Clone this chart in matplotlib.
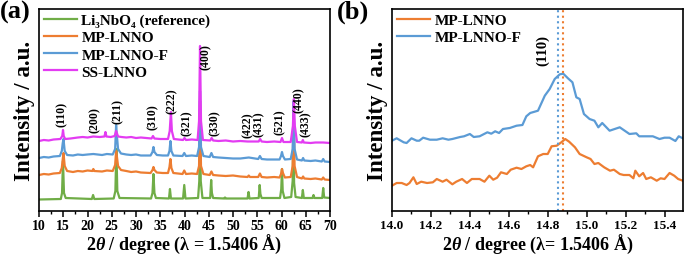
import matplotlib
matplotlib.use("Agg")
import matplotlib.pyplot as plt
from matplotlib.ticker import MultipleLocator, FormatStrFormatter

plt.rcParams['font.family'] = ['Liberation Serif', 'DejaVu Serif']
plt.rcParams['font.weight'] = 'bold'
plt.rcParams['mathtext.fontset'] = 'custom'
plt.rcParams['mathtext.rm'] = 'Liberation Serif:bold'
plt.rcParams['mathtext.it'] = 'Liberation Serif:italic:bold'
plt.rcParams['mathtext.bf'] = 'Liberation Serif:bold'
plt.rcParams['mathtext.default'] = 'regular'

# ---------------- Panel (a) data (intensity, arbitrary units) ----------------
green_x = [10, 14.5, 14.75, 14.95, 15.15, 15.5, 20.9, 21.15, 21.4, 25.4, 25.75, 25.95, 26.15, 26.6,
           33.1, 33.4, 33.6, 33.8, 34.1, 36.8, 37.0, 37.2, 39.7, 39.95, 40.2, 42.8, 43.05, 43.2, 43.35,
           43.7, 45.3, 45.5, 45.65, 45.9, 48.2, 48.35, 48.5, 53.0, 53.2, 53.4, 55.3, 55.5, 55.65, 55.9,
           59.7, 59.95, 60.1, 60.25, 60.6, 62.0, 62.3, 62.45, 62.6, 62.9, 64.2, 64.4, 64.6, 66.4, 66.6,
           66.8, 68.4, 68.6, 68.8, 70]
green_y = [11.5, 12, 18, 50, 18, 13, 12, 16, 12, 12.5, 20, 62, 20, 13,
           12.5, 18, 37, 18, 13, 12.5, 22, 12.5, 12.5, 26, 12.5, 13, 30, 110, 30,
           13, 13, 31, 18, 13, 12.5, 13.5, 12.5, 12.5, 19, 12.5, 13, 26, 17, 13,
           13, 22, 42, 20, 13, 14, 30, 80, 28, 14, 13, 21, 13, 13, 16,
           13, 13, 23, 13.5, 13]

orange_x = [10, 11, 12, 13, 14.3, 14.7, 14.9, 15.05, 15.3, 15.8, 17, 18, 19, 20, 21.0, 21.2, 21.4, 23,
            24, 25.2, 25.7, 25.9, 26.05, 26.3, 26.9, 28, 29, 30, 31, 33.0, 33.4, 33.6, 33.8, 34.3,
            35.5, 36.6, 36.9, 37.1, 37.3, 37.7, 39.6, 39.95, 40.3, 41.5, 42.6, 43.0, 43.2, 43.4, 43.9,
            45.2, 45.55, 45.9, 47, 48.5, 50, 51.5, 53.0, 53.25, 53.5, 55.2, 55.55, 55.9, 57, 58.5, 59.6,
            59.9, 60.1, 60.3, 60.7, 61.9, 62.3, 62.5, 62.7, 63.2, 64.2, 64.45, 64.7, 66, 67, 68.3, 68.6,
            68.9, 70]
orange_y = [36, 37, 36.5, 37.5, 38, 43, 52, 58, 45, 40, 39, 40, 39.5, 40.5, 40, 42, 40, 39.5,
            40.5, 40, 46, 60, 55, 45, 41, 40, 39, 39.5, 38.5, 38, 41, 44, 41, 38.5,
            38, 38, 44, 52, 43, 38, 37, 40.5, 37, 37.5, 37, 45, 100, 45, 37,
            36, 39.5, 36, 35.5, 35, 35.5, 34.5, 34, 35.5, 34, 34, 37.5, 34, 33.5, 34, 33.5,
            37, 42, 38, 33.5, 34, 45, 95, 45, 34, 32.5, 34.5, 32.5, 32, 32.5, 31.5, 33.5,
            31.5, 31]

blue_x = [10, 11, 12, 13, 14.3, 14.7, 14.9, 15.05, 15.3, 15.8, 17, 18, 19, 20, 21.2, 23, 24, 25.2,
          25.7, 25.9, 26.05, 26.3, 26.9, 28, 29, 30, 31, 33.0, 33.4, 33.6, 33.8, 34.3, 35.5, 36.6,
          36.9, 37.1, 37.3, 37.7, 39.6, 39.95, 40.3, 41.5, 42.6, 43.0, 43.2, 43.4, 43.9, 45.2, 45.55,
          45.9, 47, 48.5, 50, 51.5, 53.25, 55.2, 55.55, 55.9, 57, 58.5, 59.6, 59.9, 60.1, 60.3, 60.7,
          61.9, 62.3, 62.5, 62.7, 63.2, 64.2, 64.45, 64.7, 66, 67, 68.3, 68.6, 68.9, 70]
blue_y = [53, 54, 53.5, 54.5, 55, 60, 68, 72, 60, 56, 55.5, 56.5, 56, 56.5, 57, 56, 57, 56.5,
          62, 86, 76, 62, 57.5, 56.5, 56, 56.5, 55.5, 55.5, 59, 64, 59, 56,
          55.5, 55.5, 60, 70, 60, 55.5, 55, 58, 55, 55.5, 55, 64, 120, 64, 55, 54, 58,
          54, 53.5, 53, 52.5, 52.5, 53.5, 52, 55, 52, 51.5, 51.5, 51.5,
          55, 59, 55, 51.5, 52, 62, 110, 62, 51.5, 50.5, 53, 50.5, 50, 50.5, 49.5, 52,
          49.5, 49]

magenta_x = [10, 11, 12, 13, 14.4, 14.8, 14.95, 15.1, 15.4, 16.5, 18, 19, 20, 21.2, 22.5, 23.5,
             23.7, 23.9, 24.8, 25.6, 25.9, 26.05, 26.3, 27, 28, 29, 30, 31, 33.2, 33.5, 33.8, 35,
             36.6, 36.95, 37.2, 37.4, 37.8, 39.7, 40.0, 40.3, 41.5, 42.7, 43.0, 43.2, 43.4, 43.8,
             45.3, 45.6, 45.9, 47, 48.5, 50, 51.5, 53, 55.3, 55.6, 55.9, 57, 58.5, 59.8, 60.1, 60.4,
             61.9, 62.35, 62.55, 62.75, 63.2, 64.2, 64.4, 64.6, 66, 67, 68.6, 70]
magenta_y = [70, 71, 70.5, 71.5, 72, 75, 81, 75, 72, 72.5, 73.5, 74, 73.5, 74.5, 74, 74.5,
             79, 74.5, 74, 75, 80, 78, 74.5, 74, 73.5, 74, 73, 73.5, 72.5, 75, 72.5, 72,
             72, 80, 99, 80, 72, 71, 73, 71, 71.5, 71, 90, 165, 90, 71,
             70.5, 73, 70.5, 70, 70.5, 69.5, 70, 69.5, 69.5, 72, 69.5, 69, 69.5, 69, 73, 69,
             69, 85, 112, 85, 69, 68.5, 71, 68.5, 68, 68.5, 68.5, 68]

hkl_labels = ['(110)', '(200)', '(211)', '(310)', '(222)', '(321)', '(400)', '(330)',
              '(422)', '(431)', '(521)', '(440)', '(433)']
hkl_x = [14.8, 21.5, 26.3, 33.5, 37.4, 40.5, 44.4, 46.3, 53.1, 55.4, 59.7, 63.5, 65.0]
hkl_y = [98, 92, 100, 95, 111, 89, 155, 89, 87, 88, 90, 112, 88]

# ---------------- Panel (b) data ----------------
b_blue_x = [14.0, 14.024, 14.06, 14.075, 14.10, 14.127, 14.14, 14.16, 14.195, 14.23, 14.26, 14.29,
            14.31, 14.35, 14.37, 14.40, 14.42, 14.45, 14.49, 14.51, 14.53, 14.55, 14.57, 14.605,
            14.64, 14.67, 14.69, 14.71, 14.75, 14.785, 14.81, 14.836, 14.862, 14.88, 14.904, 14.927,
            14.947, 14.964, 14.986, 15.015, 15.04, 15.06, 15.08, 15.118, 15.17, 15.22, 15.255, 15.27,
            15.306, 15.34, 15.374, 15.40, 15.426, 15.456, 15.473, 15.494]
b_blue_y = [70.3, 72.7, 68.7, 68.0, 72.7, 70.3, 70.3, 73.3, 71.3, 71.3, 72.7, 71.3,
            72.0, 74.0, 74.7, 77.0, 74.0, 74.7, 78.7, 77.3, 79.7, 78.0, 82.0, 83.0,
            85.3, 86.0, 94.7, 98.0, 100.3, 115.3, 122.0, 132.0, 136.7, 137.3, 132.7, 128.7,
            113.7, 112.0, 97.0, 92.0, 90.3, 83.7, 88.0, 80.3, 83.7, 77.0, 77.7, 74.7,
            74.7, 74.7, 72.0, 73.3, 73.3, 70.0, 74.7, 72.7]

b_orange_x = [14.0, 14.024, 14.05, 14.075, 14.09, 14.11, 14.127, 14.15, 14.18, 14.21, 14.23, 14.26,
              14.28, 14.31, 14.33, 14.36, 14.385, 14.41, 14.45, 14.475, 14.5, 14.52, 14.54, 14.56,
              14.59, 14.61, 14.64, 14.665, 14.69, 14.71, 14.725, 14.75, 14.777, 14.8, 14.82, 14.846,
              14.87, 14.89, 14.91, 14.94, 14.964, 15.0, 15.02, 15.04, 15.06, 15.09, 15.12, 15.14,
              15.17, 15.19, 15.22, 15.24, 15.25, 15.27, 15.29, 15.306, 15.33, 15.36, 15.38, 15.40,
              15.426, 15.45, 15.47, 15.494]
b_orange_y = [25.3, 28.0, 28.0, 26.0, 28.0, 33.7, 27.0, 29.3, 28.0, 28.7, 32.0, 29.3,
              31.3, 26.7, 29.3, 32.0, 28.0, 32.0, 32.0, 29.3, 35.3, 31.3, 33.3, 38.7,
              37.0, 41.3, 43.3, 42.0, 44.7, 46.0, 43.7, 54.7, 57.0, 57.0, 64.7, 65.3,
              68.7, 72.0, 69.3, 63.7, 57.0, 53.7, 52.0, 47.0, 48.0, 43.7, 40.3, 41.3,
              37.0, 36.0, 36.0, 32.7, 40.3, 34.7, 38.0, 32.0, 33.7, 30.3, 32.7, 32.0,
              38.0, 35.3, 32.0, 30.3]
b_peak_blue = 14.855
b_peak_orange = 14.88

GREEN = '#70AD47'
ORANGE = '#ED7D31'
BLUE = '#5B9BD5'
MAGENTA = '#E33CF2'

fig = plt.figure(figsize=(6.85, 2.55), dpi=100)
ax1 = fig.add_axes([39/685, 43/255, 291/685, 202/255])
ax2 = fig.add_axes([392/685, 43/255, 291/685, 202/255])

lw = 1.6
ax1.plot(green_x, green_y, color=GREEN, lw=lw, label='Li₃NbO₄ (reference)')
ax1.plot(orange_x, orange_y, color=ORANGE, lw=lw, label='MP-LNNO')
ax1.plot(blue_x, blue_y, color=BLUE, lw=lw, label='MP-LNNO-F')
ax1.plot(magenta_x, magenta_y, color=MAGENTA, lw=lw, label='SS-LNNO')
for lab, xx, yy in zip(hkl_labels, hkl_x, hkl_y):
    ax1.text(xx, yy, lab, rotation=90, ha='center', va='center', fontsize=8.5, fontweight='bold')

ax1.set_xlim(10, 70)
ax1.set_ylim(0, 202)
ax1.xaxis.set_major_locator(MultipleLocator(5))
ax1.xaxis.set_minor_locator(MultipleLocator(2.5))
ax1.set_yticks([])
ax1.set_ylabel('Intensity / a.u.', fontsize=16.5, fontweight='bold', labelpad=3)

ax2.plot(b_orange_x, b_orange_y, color=ORANGE, lw=lw, label='MP-LNNO')
ax2.plot(b_blue_x, b_blue_y, color=BLUE, lw=lw, label='MP-LNNO-F')
ax2.axvline(b_peak_blue, color=BLUE, lw=1.5, ls=':')
ax2.axvline(b_peak_orange, color=ORANGE, lw=1.5, ls=':')
ax2.text(14.775, 161, '(110)', rotation=90, ha='center', va='center', fontsize=10.5, fontweight='bold')
ax2.set_xlim(14.0, 15.495)
ax2.set_ylim(0, 202)
ax2.xaxis.set_major_locator(MultipleLocator(0.2))
ax2.xaxis.set_minor_locator(MultipleLocator(0.1))
ax2.xaxis.set_major_formatter(FormatStrFormatter('%.1f'))
ax2.set_yticks([])
ax2.set_ylabel('Intensity / a.u.', fontsize=16.5, fontweight='bold', labelpad=3)

for ax, xl, ls in ((ax1, r'2$\mathit{\theta}$ / degree (λ = 1.5406 Å)', 10),
                   (ax2, r'2$\mathit{\theta}$ / degree (λ= 1.5406 Å)', 9.5)):
    ax.set_xlabel(xl, fontsize=13, fontweight='bold')
    ax.xaxis.label.set_va('center')
    ax.xaxis.set_label_coords(0.5, (212 - 244) / 202)
    ax.legend(loc='upper left', bbox_to_anchor=(0.012, 0.985), frameon=False, fontsize=11,
              handlelength=2.15, handletextpad=0.3, labelspacing=0.22, borderpad=0.1, borderaxespad=0)
    for s in ax.spines.values():
        s.set_linewidth(1.2)
    ax.tick_params(axis='x', which='major', direction='out', length=4, width=1.1, labelsize=ls, pad=2)
    ax.tick_params(axis='x', which='minor', direction='out', length=2.5, width=1.0)
    for t in ax.get_xticklabels():
        t.set_fontweight('bold')

fig.text(0/685, 1 - 12/255, '(a)', fontsize=19, fontweight='bold', va='center', ha='left')
fig.text(337/685, 1 - 12/255, '(b)', fontsize=19, fontweight='bold', va='center', ha='left')

fig.savefig('out.png', dpi=100)
